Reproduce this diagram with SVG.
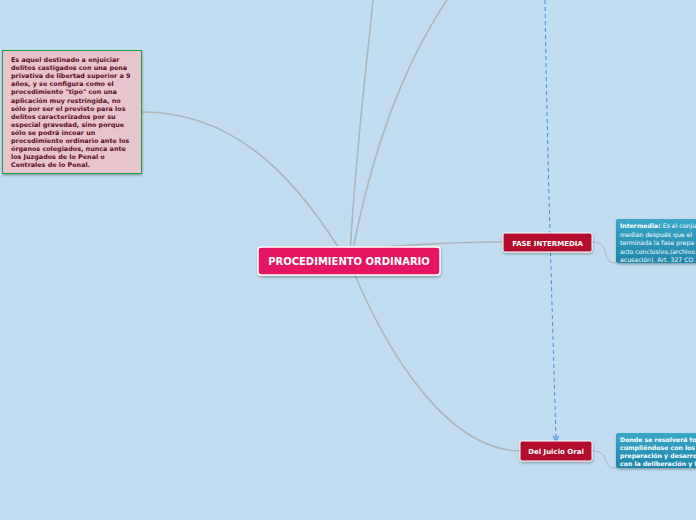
<svg xmlns="http://www.w3.org/2000/svg" width="696" height="520" viewBox="0 0 696 520">
<defs>
<style>
.con{fill:none;stroke:#aeb4b8;stroke-width:1.6}
.sub{fill:none;stroke:#aeb4b8;stroke-width:1}
.rel{fill:none;stroke:#3d8ee6;stroke-width:1;stroke-dasharray:4,3}
.t{font-family:"DejaVu Sans","Noto Sans",sans-serif;font-weight:bold}
.red{fill:#b30c2e;stroke:#ffffff;stroke-width:1}
.note{font-family:"DejaVu Sans","Noto Sans",sans-serif;font-weight:bold;font-size:6.4px;fill:#5c0b1f}
.teal{font-family:"DejaVu Sans","Noto Sans",sans-serif;font-size:6.2px;fill:#ffffff}
</style>
<linearGradient id="tg" x1="0" y1="0" x2="0" y2="1">
<stop offset="0" stop-color="#3aa7c9"/>
<stop offset="1" stop-color="#1f86aa"/>
</linearGradient>
<filter id="sh" x="-10%" y="-10%" width="130%" height="140%">
<feDropShadow dx="0.5" dy="1.5" stdDeviation="1" flood-color="#000" flood-opacity="0.3"/>
</filter>
<marker id="arr" viewBox="0 0 8 8" refX="7" refY="4" markerWidth="7" markerHeight="7" orient="auto">
<path d="M1,1 L7,4 L1,7" fill="none" stroke="#3d8ee6" stroke-width="1.2"/>
</marker>
</defs>
<rect width="696" height="520" fill="#c2ddf0"/>
<g id="connectors">
<path class="con" d="M350,255 C355,160 365,80 373,0"/>
<path class="con" d="M352,255 C370,160 400,70 447,0"/>
<path class="con" d="M340,250 C290,170 230,112 142,112"/>
<path class="con" d="M349,250 C400,245 450,242 503,242"/>
<path class="con" d="M352,268 C390,360 450,450 520,451"/>
<path class="sub" d="M592,242 C612,242 600,263 616,263"/>
<path class="sub" d="M592,451 C612,451 600,468 616,468"/>
<path class="rel" d="M545,0 C547,150 552,300 556,441" marker-end="url(#arr)"/>
</g>
<g id="note">
<rect x="2.5" y="50.5" width="139" height="123" fill="#e8c5cc" stroke="#1aa34a" stroke-width="1" filter="url(#sh)"/>
<text class="note" x="11">
<tspan x="11" y="62">Es aquel destinado a enjuiciar</tspan>
<tspan x="11" y="70.1">delitos castigados con una pena</tspan>
<tspan x="11" y="78.2">privativa de libertad superior a 9</tspan>
<tspan x="11" y="86.3">años, y se configura como el</tspan>
<tspan x="11" y="94.4">procedimiento "tipo" con una</tspan>
<tspan x="11" y="102.5">aplicación muy restringida, no</tspan>
<tspan x="11" y="110.6">sólo por ser el previsto para los</tspan>
<tspan x="11" y="118.7">delitos caracterizados por su</tspan>
<tspan x="11" y="126.8">especial gravedad, sino porque</tspan>
<tspan x="11" y="134.9">sólo se podrá incoar un</tspan>
<tspan x="11" y="143">procedimiento ordinario ante los</tspan>
<tspan x="11" y="151.1">órganos colegiados, nunca ante</tspan>
<tspan x="11" y="159.2">los Juzgados de lo Penal o</tspan>
<tspan x="11" y="167.3">Centrales de lo Penal.</tspan>
</text>
</g>
<g id="central">
<rect x="258" y="247" width="182" height="28" rx="3" fill="#e5195e" stroke="#ffffff" stroke-width="1.5" filter="url(#sh)"/>
<text class="t" x="349" y="265" font-size="10" fill="#ffffff" text-anchor="middle">PROCEDIMIENTO ORDINARIO</text>
</g>
<g id="fase">
<rect class="red" x="503" y="233" width="89" height="19" rx="2" filter="url(#sh)"/>
<text class="t" x="547.5" y="245.5" font-size="7" fill="#ffffff" text-anchor="middle">FASE INTERMEDIA</text>
</g>
<g id="juicio">
<rect class="red" x="520" y="441" width="72" height="20" rx="2" filter="url(#sh)"/>
<text class="t" x="556" y="454" font-size="7" fill="#ffffff" text-anchor="middle">Del Juicio Oral</text>
</g>
<g id="intermedia">
<rect x="616" y="219" width="90" height="44" rx="2" fill="url(#tg)" filter="url(#sh)"/>
<text class="teal">
<tspan x="620" y="228"><tspan font-weight="bold">Intermedia:</tspan> Es el conjun</tspan>
<tspan x="620" y="236.5">median después que el</tspan>
<tspan x="620" y="245">terminada la fase prepa</tspan>
<tspan x="620" y="253.5">acto conclusivo,(archivo</tspan>
<tspan x="620" y="262">acusación). Art. 327 CO</tspan>
</text>
</g>
<g id="juicio-desc">
<rect x="616" y="433" width="90" height="35" rx="2" fill="url(#tg)" filter="url(#sh)"/>
<text class="teal" font-weight="bold" font-size="6">
<tspan x="620" y="442">Donde se resolverá too</tspan>
<tspan x="620" y="450">cumpliéndose con los</tspan>
<tspan x="620" y="458">preparación y desarrol</tspan>
<tspan x="620" y="466">con la deliberación y la</tspan>
</text>
</g>
</svg>
